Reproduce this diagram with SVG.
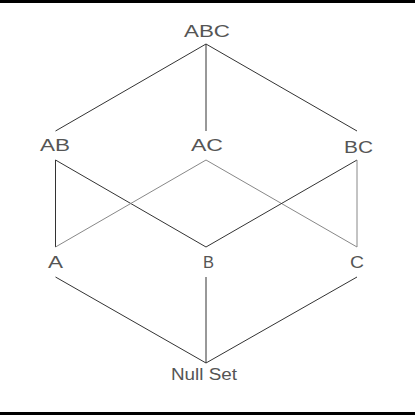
<svg xmlns="http://www.w3.org/2000/svg" width="415" height="415" viewBox="0 0 415 415">
<style>
.lbl{font-family:"Liberation Sans",Arial,sans-serif;font-size:16px;fill:#555;}
.e{stroke:#333;stroke-width:1;fill:none;}
.g{stroke:#888;stroke-width:1;fill:none;}
</style>
<rect x="0" y="0" width="415" height="415" fill="#fff"/>
<rect x="0" y="0" width="415" height="3" fill="#000"/>
<rect x="0" y="412" width="415" height="3" fill="#000"/>
<g id="connectors">
<line class="e" x1="206" y1="44" x2="55.5" y2="131"/>
<line class="e" x1="206" y1="44" x2="206" y2="131"/>
<line class="e" x1="206" y1="44" x2="357" y2="131"/>
<line class="e" x1="55.5" y1="160" x2="55.5" y2="247"/>
<line class="e" x1="55.5" y1="160" x2="206" y2="247"/>
<line class="g" x1="206" y1="160" x2="55.5" y2="247"/>
<line class="g" x1="206" y1="160" x2="357" y2="247"/>
<line class="e" x1="357" y1="160" x2="206" y2="247"/>
<line class="g" x1="357" y1="160" x2="357" y2="247"/>
<line class="e" x1="55.5" y1="277" x2="206" y2="363"/>
<line class="e" x1="206" y1="277" x2="206" y2="363"/>
<line class="e" x1="357" y1="277" x2="206" y2="363"/>
</g>
<g id="ABC"><text class="lbl" x="184" y="37" textLength="46" lengthAdjust="spacingAndGlyphs">ABC</text></g>
<g id="AB"><text class="lbl" x="40" y="151" textLength="30" lengthAdjust="spacingAndGlyphs">AB</text></g>
<g id="AC"><text class="lbl" x="191" y="151" textLength="32" lengthAdjust="spacingAndGlyphs">AC</text></g>
<g id="BC"><text class="lbl" x="344" y="153" textLength="29" lengthAdjust="spacingAndGlyphs">BC</text></g>
<g id="A"><text class="lbl" x="48" y="268" textLength="15" lengthAdjust="spacingAndGlyphs">A</text></g>
<g id="B"><text class="lbl" x="203" y="268" textLength="11" lengthAdjust="spacingAndGlyphs">B</text></g>
<g id="C"><text class="lbl" x="350" y="268" textLength="14" lengthAdjust="spacingAndGlyphs">C</text></g>
<g id="NullSet"><text class="lbl" x="171" y="380" textLength="66" lengthAdjust="spacingAndGlyphs">Null Set</text></g>
</svg>
